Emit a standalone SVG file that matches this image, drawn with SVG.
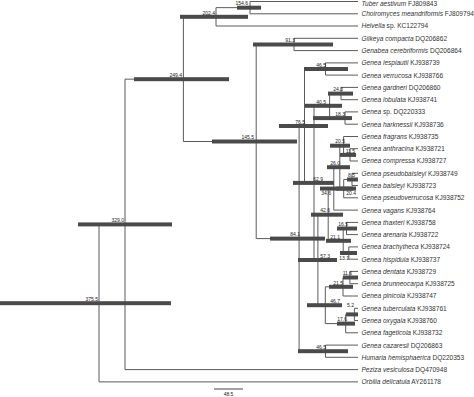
<svg xmlns="http://www.w3.org/2000/svg" width="474" height="397" viewBox="0 0 474 397">
<style>
.br{fill:none;stroke:#5a5a5a;stroke-width:1}
.bar{fill:#4a4a4a}
.tl{font-family:"Liberation Sans",Arial,sans-serif;font-size:6.55px;fill:#333}
.tl .i{font-style:italic}
.nl{font-family:"Liberation Sans",Arial,sans-serif;font-size:5px;fill:#222;text-anchor:end}
</style>
<rect width="474" height="397" fill="#fff"/>
<g id="connectors" class="br">
<path d="M99,224.4V381.9M99,224.4H125M99,381.9H358"/>
<path d="M125,79.15V369.6M125,79.15H183.4M125,369.6H358"/>
<path d="M183.4,16.8V141.5M183.4,16.8H216M183.4,141.5H256.2"/>
<path d="M216,7.65V26M216,7.65H250M216,26H358"/>
<path d="M250,1.5V13.8M250,1.5H358M250,13.8H358"/>
<path d="M256.2,44.45V238.6M256.2,44.45H294M256.2,238.6H299.1"/>
<path d="M294,38.3V50.6M294,38.3H358M294,50.6H358"/>
<path d="M299.1,125.95V351.2M299.1,125.95H304.5M299.1,351.2H325.5"/>
<path d="M325.5,345.1V357.3M325.5,345.1H358M325.5,357.3H358"/>
<path d="M304.5,69V182.9M304.5,69H325.5M304.5,182.9H314"/>
<path d="M325.5,62.9V75.1M325.5,62.9H358M325.5,75.1H358"/>
<path d="M314,105.8V259.95M314,105.8H329.6M314,259.95H317.9"/>
<path d="M329.6,93.55V118.05M329.6,93.55H341M329.6,118.05H345"/>
<path d="M341,87.4V99.7M341,87.4H358M341,99.7H358"/>
<path d="M345,111.9V124.2M345,111.9H358M345,124.2H358"/>
<path d="M317.9,214.7V305.2M317.9,214.7H328.2M317.9,305.2H325.3"/>
<path d="M328.2,188.6V240.8M328.2,188.6H333.8M328.2,240.8H343.2"/>
<path d="M333.8,167.15V210.1M333.8,167.15H339.8M333.8,210.1H358"/>
<path d="M339.8,145.7V188.6M339.8,145.7H343.6M339.8,188.6H343.7"/>
<path d="M343.6,136.5V154.85M343.6,136.5H358M343.6,154.85H350"/>
<path d="M350,148.7V161M350,148.7H358M350,161H358"/>
<path d="M343.7,179.45V197.8M343.7,179.45H352M343.7,197.8H358"/>
<path d="M352,173.3V185.6M352,173.3H358M352,185.6H358"/>
<path d="M343.2,228.5V253.05M343.2,228.5H346.5M343.2,253.05H348.8"/>
<path d="M346.5,222.4V234.6M346.5,222.4H358M346.5,234.6H358"/>
<path d="M348.8,246.9V259.2M348.8,246.9H358M348.8,259.2H358"/>
<path d="M325.3,286.8V323.6M325.3,286.8H343M325.3,323.6H345.7"/>
<path d="M343,277.55V296M343,277.55H349.9M343,296H358"/>
<path d="M349.9,271.4V283.7M349.9,271.4H358M349.9,283.7H358"/>
<path d="M345.7,314.4V332.8M345.7,314.4H354.4M345.7,332.8H358"/>
<path d="M354.4,308.3V320.5M354.4,308.3H358M354.4,320.5H358"/>
</g>
<g id="n375"><rect class="bar" x="0" y="301.2" width="171" height="4"/><text class="nl" x="98" y="300.8">375.5</text></g>
<g id="n329"><rect class="bar" x="78" y="222.4" width="94" height="4"/><text class="nl" x="124" y="222.1">329.0</text></g>
<g id="n249"><rect class="bar" x="134" y="77.2" width="95" height="4"/><text class="nl" x="182" y="76.8">249.4</text></g>
<g id="n202"><rect class="bar" x="180" y="14.8" width="68" height="4"/><text class="nl" x="215" y="14.5">202.4</text></g>
<g id="n154"><rect class="bar" x="237" y="5.7" width="24" height="4"/><text class="nl" x="248" y="5.3">154.6</text></g>
<g id="n145"><rect class="bar" x="212" y="139.5" width="85" height="4"/><text class="nl" x="254" y="139.2">145.5</text></g>
<g id="n91"><rect class="bar" x="253" y="42.5" width="80" height="4"/><text class="nl" x="295" y="42.1">91.3</text></g>
<g id="n84"><rect class="bar" x="270" y="236.6" width="55" height="4"/><text class="nl" x="300" y="236.3">84.1</text></g>
<g id="n76"><rect class="bar" x="279" y="124" width="49" height="4"/><text class="nl" x="305" y="123.6">76.5</text></g>
<g id="n46a"><rect class="bar" x="304" y="67" width="44" height="4"/><text class="nl" x="326" y="66.7">46.5</text></g>
<g id="n62"><rect class="bar" x="293" y="180.9" width="41" height="4"/><text class="nl" x="323" y="180.6">62.9</text></g>
<g id="n40"><rect class="bar" x="305" y="103.8" width="37" height="4"/><text class="nl" x="326" y="103.5">40.5</text></g>
<g id="n24"><rect class="bar" x="328" y="91.6" width="25" height="4"/><text class="nl" x="343" y="91.2">24.3</text></g>
<g id="n18"><rect class="bar" x="313" y="116.1" width="39" height="4"/><text class="nl" x="345" y="115.7">18.3</text></g>
<g id="n57"><rect class="bar" x="298" y="258" width="39" height="4"/><text class="nl" x="330" y="257.5">57.3</text></g>
<g id="n42"><rect class="bar" x="311" y="212.7" width="32" height="4"/><text class="nl" x="330" y="212.4">42.6</text></g>
<g id="n34"><rect class="bar" x="320" y="186.6" width="33" height="4"/><text class="nl" x="331" y="195.2">34.6</text></g>
<g id="n26"><rect class="bar" x="327" y="165.2" width="23" height="4"/><text class="nl" x="340" y="164.8">26.0</text></g>
<g id="n20_5"><rect class="bar" x="330" y="143.7" width="20" height="4"/><text class="nl" x="345" y="143.4">20.5</text></g>
<g id="n11_5"><rect class="bar" x="340" y="152.9" width="16" height="4"/><text class="nl" x="355" y="152.5">11.5</text></g>
<g id="n20_4"><rect class="bar" x="336" y="186.6" width="20" height="4"/><text class="nl" x="356" y="195.2">20.4</text></g>
<g id="n8"><rect class="bar" x="347" y="177.5" width="11" height="4"/><text class="nl" x="355" y="177.1">8.5</text></g>
<g id="n21_1"><rect class="bar" x="326" y="238.8" width="25" height="4"/><text class="nl" x="340" y="238.5">21.1</text></g>
<g id="n16"><rect class="bar" x="337" y="226.5" width="20" height="4"/><text class="nl" x="348" y="226.2">16.5</text></g>
<g id="n13"><rect class="bar" x="340" y="251" width="17" height="4"/><text class="nl" x="349" y="260">13.1</text></g>
<g id="n46_7"><rect class="bar" x="307" y="303.2" width="35" height="4"/><text class="nl" x="340" y="302.9">46.7</text></g>
<g id="n21_5"><rect class="bar" x="329" y="284.8" width="24" height="4"/><text class="nl" x="343" y="284.5">21.5</text></g>
<g id="n11_6"><rect class="bar" x="343" y="275.5" width="15" height="4"/><text class="nl" x="352" y="275.2">11.6</text></g>
<g id="n17"><rect class="bar" x="337" y="321.6" width="18" height="4"/><text class="nl" x="347" y="321.3">17.6</text></g>
<g id="n5"><rect class="bar" x="346" y="312.4" width="12" height="4"/><text class="nl" x="354" y="307">5.2</text></g>
<g id="n46b"><rect class="bar" x="298" y="349.2" width="50" height="4"/><text class="nl" x="326" y="348.9">46.5</text></g>
<g class="tl">
<g id="t0"><text x="361.5" y="5.8"><tspan class="i">Tuber aestivum</tspan> FJ809843</text></g>
<g id="t1"><text x="361.5" y="16.2"><tspan class="i">Choiromyces meandriformis</tspan> FJ809794</text></g>
<g id="t2"><text x="361.5" y="28.4"><tspan class="i">Helvella</tspan> sp. KC122794</text></g>
<g id="t3"><text x="361.5" y="40.7"><tspan class="i">Gilkeya compacta</tspan> DQ206862</text></g>
<g id="t4"><text x="361.5" y="53"><tspan class="i">Genabea cerebriformis</tspan> DQ206864</text></g>
<g id="t5"><text x="361.5" y="65.3"><tspan class="i">Genea lespiautii</tspan> KJ938739</text></g>
<g id="t6"><text x="361.5" y="77.5"><tspan class="i">Genea verrucosa</tspan> KJ938766</text></g>
<g id="t7"><text x="361.5" y="89.8"><tspan class="i">Genea gardneri</tspan> DQ206860</text></g>
<g id="t8"><text x="361.5" y="102.1"><tspan class="i">Genea lobulata</tspan> KJ938741</text></g>
<g id="t9"><text x="361.5" y="114.3"><tspan class="i">Genea</tspan> sp. DQ220333</text></g>
<g id="t10"><text x="361.5" y="126.6"><tspan class="i">Genea harknessii</tspan> KJ938736</text></g>
<g id="t11"><text x="361.5" y="138.9"><tspan class="i">Genea fragrans</tspan> KJ938735</text></g>
<g id="t12"><text x="361.5" y="151.1"><tspan class="i">Genea anthracina</tspan> KJ938721</text></g>
<g id="t13"><text x="361.5" y="163.4"><tspan class="i">Genea compressa</tspan> KJ938727</text></g>
<g id="t14"><text x="361.5" y="175.7"><tspan class="i">Genea pseudobalsleyi</tspan> KJ938749</text></g>
<g id="t15"><text x="361.5" y="188"><tspan class="i">Genea balsleyi</tspan> KJ938723</text></g>
<g id="t16"><text x="361.5" y="200.2"><tspan class="i">Genea pseudoverrucosa</tspan> KJ938752</text></g>
<g id="t17"><text x="361.5" y="212.5"><tspan class="i">Genea vagans</tspan> KJ938764</text></g>
<g id="t18"><text x="361.5" y="224.8"><tspan class="i">Genea thaxteri</tspan> KJ938758</text></g>
<g id="t19"><text x="361.5" y="237"><tspan class="i">Genea arenaria</tspan> KJ938722</text></g>
<g id="t20"><text x="361.5" y="249.3"><tspan class="i">Genea brachytheca</tspan> KJ938724</text></g>
<g id="t21"><text x="361.5" y="261.6"><tspan class="i">Genea hispidula</tspan> KJ938737</text></g>
<g id="t22"><text x="361.5" y="273.8"><tspan class="i">Genea dentata</tspan> KJ938729</text></g>
<g id="t23"><text x="361.5" y="286.1"><tspan class="i">Genea brunneocarpa</tspan> KJ938725</text></g>
<g id="t24"><text x="361.5" y="298.4"><tspan class="i">Genea pinicola</tspan> KJ938747</text></g>
<g id="t25"><text x="361.5" y="310.7"><tspan class="i">Genea tuberculata</tspan> KJ938761</text></g>
<g id="t26"><text x="361.5" y="322.9"><tspan class="i">Genea oxygala</tspan> KJ938760</text></g>
<g id="t27"><text x="361.5" y="335.2"><tspan class="i">Genea fageticola</tspan> KJ938732</text></g>
<g id="t28"><text x="361.5" y="347.5"><tspan class="i">Genea cazaresii</tspan> DQ206863</text></g>
<g id="t29"><text x="361.5" y="359.7"><tspan class="i">Humaria hemisphaerica</tspan> DQ220353</text></g>
<g id="t30"><text x="361.5" y="372"><tspan class="i">Peziza vesiculosa</tspan> DQ470948</text></g>
<g id="t31"><text x="361.5" y="384.3"><tspan class="i">Orbilia delicatula</tspan> AY261178</text></g>
</g>
<g id="scale"><path d="M214,389H243" stroke="#444" stroke-width="1"/><text class="nl" x="228.5" y="396" style="text-anchor:middle">48.5</text></g>
</svg>
